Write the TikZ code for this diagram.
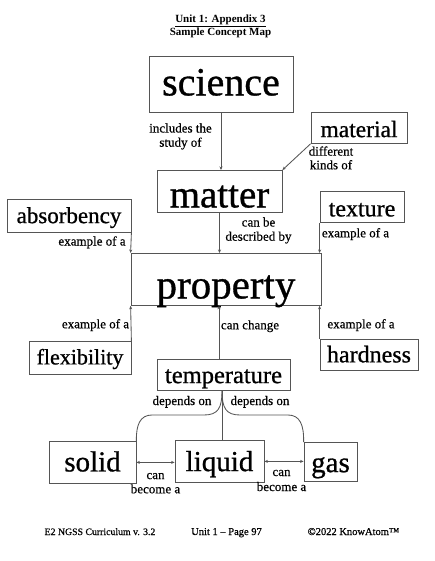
\documentclass[tikz,border=0pt]{standalone}
\usepackage{fontspec}
\setmainfont{Liberation Serif}
\newfontfamily\heavyfont[FakeBold=0.8]{Liberation Serif}
\newfontfamily\midfont[FakeBold=0.5]{Liberation Serif}
\usetikzlibrary{arrows.meta}
\definecolor{linegray}{HTML}{555555}
\tikzset{
  x=1pt,y=1pt,
  concept/.style={draw=linegray, line width=0.8pt, inner sep=0pt, anchor=north, text=black},
  lbl/.style={font=\midfont\fontsize{13}{14.2}\selectfont, align=center, inner sep=0pt, anchor=base},
  conn/.style={draw=linegray, line width=0.85pt},
  arr/.style={conn, -{Stealth[length=3.5pt,width=3pt]}},
  darr/.style={conn, {Stealth[length=3.5pt,width=3pt]}-{Stealth[length=3.5pt,width=3pt]}},
  foot/.style={font=\midfont\fontsize{10.5}{12}\selectfont, inner sep=0pt, anchor=base},
}
\begin{document}
\begin{tikzpicture}
\useasboundingbox (0,0) rectangle (434,-561);
\fill[white] (0,0) rectangle (434,-561);
% title
\node[inner sep=0pt, anchor=base, font=\bfseries\fontsize{11}{12}\selectfont] (t1) at (220.5,-22.7) {\underline{Unit 1: Appendix 3}};
\node[inner sep=0pt, anchor=base, font=\bfseries\fontsize{11}{12}\selectfont] (t2) at (220.5,-35.7) {Sample Concept Map};
% concepts (anchor north at box top; text height/depth fix baseline)
\node[concept, minimum width=144, text height=39, text depth=17, font=\heavyfont\fontsize{40}{40}\selectfont] (science) at (221,-56) {science};
\node[concept, minimum width=96, text height=24.7, text depth=6.3, font=\heavyfont\fontsize{23.5}{24}\selectfont] (material) at (359,-112) {material};
\node[concept, minimum width=125, text height=37, text depth=5, font=\heavyfont\fontsize{39}{39}\selectfont] (matter) at (219.5,-170) {matter};
\node[concept, minimum width=124, text height=23.7, text depth=9.3, font=\heavyfont\fontsize{23}{23}\selectfont] (absorbency) at (69,-199) {absorbency};
\node[concept, minimum width=84, text height=25, text depth=6, font=\heavyfont\fontsize{24}{24}\selectfont] (texture) at (362,-191) {texture};
\node[concept, minimum width=190, text height=45, text depth=7, font=\heavyfont\fontsize{41}{41}\selectfont] (property) at (226,-253) {property};
\node[concept, minimum width=102, text height=23, text depth=10, font=\heavyfont\fontsize{22}{22}\selectfont] (flexibility) at (80,-341) {flexibility};
\node[concept, minimum width=98, text height=23, text depth=8, font=\heavyfont\fontsize{24}{24}\selectfont] (hardness) at (369,-339) {hardness};
\node[concept, minimum width=133, text height=23.7, text depth=7.3, font=\heavyfont\fontsize{24.5}{24.5}\selectfont] (temperature) at (223.5,-359) {temperature};
\node[concept, minimum width=87, text height=30, text depth=12, font=\heavyfont\fontsize{29}{29}\selectfont] (solid) at (92.5,-441) {solid};
\node[concept, minimum width=89, text height=30.7, text depth=11.3, font=\heavyfont\fontsize{29}{29}\selectfont] (liquid) at (219.5,-440) {liquid};
\node[concept, minimum width=53, text height=29.7, text depth=9.3, font=\heavyfont\fontsize{29}{29}\selectfont] (gas) at (330.5,-442) {gas};
% connectors
\draw[arr] (science.south) -- (science.south |- matter.north);
\draw[arr] (material.south west) -- (matter.north east);
\draw[arr] (matter.south) -- (matter.south |- property.north);
\draw[arr] (absorbency.south east) -- (property.north west);
\draw[arr] (texture.south west) -- (texture.south west |- property.north);
\draw[arr] (flexibility.north east) -- (property.south west);
\draw[arr] (hardness.north west) -- (hardness.north west |- property.south);
\coordinate (tempup) at ([xshift=-4.5pt]temperature.north);
\draw[arr] (tempup) -- (tempup |- property.south);
\coordinate (tempdown) at ([xshift=-1.5pt]temperature.south);
\draw[conn] (tempdown) -- (tempdown |- liquid.north);
\draw[conn] (tempdown) .. controls (222,-408) and (218,-415) .. (204,-415) -- (152,-415) .. controls (140,-415) and (136,-425) .. (solid.north east);
\draw[conn] (tempdown) .. controls (222,-408) and (226,-415) .. (240,-415) -- (288,-415) .. controls (300,-415) and (304,-425) .. (gas.north west);
\draw[darr] (solid.east) -- (solid.east -| liquid.west);
\draw[darr] (liquid.east) -- (liquid.east -| gas.west);
% labels (anchor base = last line baseline)
\node[lbl] (l1) at (180.5,-146.7) {includes the\\study of};
\node[lbl, font=\midfont\fontsize{13}{13.7}\selectfont] (l2) at (331,-169.3) {different\\kinds of};
\node[lbl] (l3) at (258.5,-240.7) {can be\\described by};
\node[lbl] (l4) at (92,-245.5) {example of a};
\node[lbl] (l5) at (355.5,-237.3) {example of a};
\node[lbl] (l6) at (95.5,-328.3) {example of a};
\node[lbl] (l7) at (361,-328.3) {example of a};
\node[lbl] (l8) at (250,-329.3) {can change};
\node[lbl] (l9) at (182,-405) {depends on};
\node[lbl] (l10) at (260,-405) {depends on};
\node[lbl] (l11) at (155.5,-493.3) {can\\become a};
\node[lbl, font=\midfont\fontsize{13}{15}\selectfont] (l12) at (281.5,-491) {can\\become a};
% footer
\node[foot, font=\midfont\fontsize{9.8}{12}\selectfont] (f1) at (100,-535) {E2 NGSS Curriculum v. 3.2};
\node[foot] (f2) at (226.5,-535) {Unit 1 – Page 97};
\node[foot] (f3) at (353.5,-535) {©2022 KnowAtom™};
\end{tikzpicture}
\end{document}
